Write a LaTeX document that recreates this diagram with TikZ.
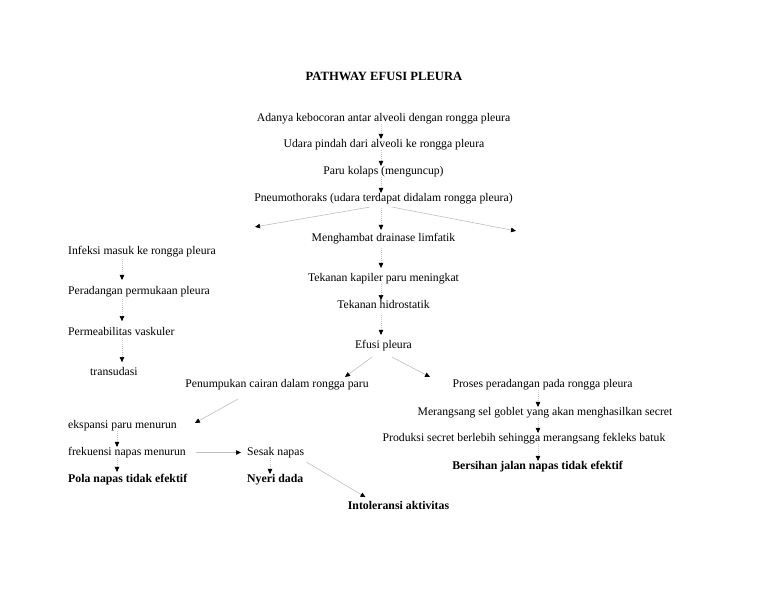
\documentclass[tikz,border=0pt]{standalone}
\usepackage{fontspec}
\setmainfont{Liberation Serif}
\usetikzlibrary{arrows.meta}
\begin{document}
\begin{tikzpicture}[x=1pt,y=-1pt,
  txt/.style={inner sep=0pt,yshift=-1.5pt,font=\fontsize{11.7}{14}\selectfont},
  btxt/.style={inner sep=0pt,yshift=-1.5pt,font=\fontsize{11.8}{14}\selectfont\bfseries},
  tip/.style={-{Triangle[width=4.5pt,length=5pt,color=black]}},
  va/.style={draw=gray!45,line width=0.5pt,dash pattern=on 1pt off 1pt,tip},
  da/.style={draw=gray!50,line width=0.6pt,tip}
]
\useasboundingbox (0,0) rectangle (768,594);
\coordinate (cm) at (381,0);
\coordinate (cl) at (122,0);
\coordinate (ck) at (117,0);
\coordinate (cs) at (270,0);
\coordinate (cr) at (538,0);

\node[btxt,font=\fontsize{12.6}{15}\selectfont\bfseries] (title) at (384,75) {PATHWAY EFUSI PLEURA};
\node[txt] (a1) at (383.5,117) {Adanya kebocoran antar alveoli dengan rongga pleura};
\node[txt] (a2) at (384,143) {Udara pindah dari alveoli ke rongga pleura};
\node[txt] (a3) at (383.5,170) {Paru kolaps (menguncup)};
\node[txt] (a4) at (383.5,197) {Pneumothoraks (udara terdapat didalam rongga pleura)};
\node[txt] (b1) at (383.5,237) {Menghambat drainase limfatik};
\node[txt] (b2) at (383.5,277) {Tekanan kapiler paru meningkat};
\node[txt] (b3) at (383.5,303) {Tekanan hidrostatik};
\node[txt] (b4) at (383.5,344) {Efusi pleura};

\node[txt,anchor=west] (l1) at (68,250) {Infeksi masuk ke rongga pleura};
\node[txt,anchor=west] (l2) at (68,290) {Peradangan permukaan pleura};
\node[txt,anchor=west] (l3) at (68,330) {Permeabilitas vaskuler};
\node[txt,anchor=west] (l4) at (90,370) {transudasi};

\node[txt] (p1) at (277,383) {Penumpukan cairan dalam rongga paru};
\node[txt,anchor=west] (k1) at (68,424) {ekspansi paru menurun};
\node[txt,anchor=west] (k2) at (68,451) {frekuensi napas menurun};
\node[btxt,anchor=west] (k3) at (68,478) {Pola napas tidak efektif};
\node[txt,anchor=west] (s1) at (247,451) {Sesak napas};
\node[btxt,anchor=west] (s2) at (247,478) {Nyeri dada};
\node[btxt] (s3) at (398.5,504) {Intoleransi aktivitas};

\node[txt] (r1) at (542.5,383) {Proses peradangan pada rongga pleura};
\node[txt] (r2) at (545,411) {Merangsang sel goblet yang akan menghasilkan secret};
\node[txt] (r3) at (524,437) {Produksi secret berlebih sehingga merangsang fekleks batuk};
\node[btxt] (r4) at (537.5,465) {Bersihan jalan napas tidak efektif};

% main chain
\draw[va] (a1.south -| cm) -- (a2.north -| cm);
\draw[va] (a2.south -| cm) -- (a3.north -| cm);
\draw[va] (a3.south -| cm) -- (a4.north -| cm);
\draw[va] ([yshift=-4pt]a4.south -| cm) -- ([yshift=3pt]b1.north -| cm);
\draw[da] ([xshift=-13.5pt,yshift=-3pt]a4.south) -- ([xshift=-128.5pt,yshift=6pt]b1.north);
\draw[da] ([xshift=8.5pt,yshift=-3pt]a4.south) -- ([xshift=132.5pt,yshift=2pt]b1.north);
\draw[va] ([yshift=-4pt]b1.south -| cm) -- ([yshift=5pt]b2.north -| cm);
\draw[va] (b2.south -| cm) -- (b3.north -| cm);
\draw[va] ([yshift=-6pt]b3.south -| cm) -- ([yshift=5pt]b4.north -| cm);
\draw[da] ([xshift=-11.5pt,yshift=-6pt]b4.south) -- ([xshift=68pt,yshift=2pt]p1.north);
\draw[da] ([xshift=8.5pt,yshift=-6pt]b4.south) -- ([xshift=-112.5pt,yshift=2pt]r1.north);

% left chain
\draw[va] ([yshift=-2pt]l1.south -| cl) -- ([yshift=6pt]l2.north -| cl);
\draw[va] ([yshift=-2pt]l2.south -| cl) -- ([yshift=6pt]l3.north -| cl);
\draw[va] ([yshift=-2pt]l3.south -| cl) -- ([yshift=5pt]l4.north -| cl);

% penumpukan branch
\draw[da] ([xshift=-39pt,yshift=-9pt]p1.south) -- ([xshift=18pt,yshift=-3pt]k1.north east);
\draw[va] (k1.south -| ck) -- (k2.north -| ck);
\draw[va] (k2.south -| ck) -- ([yshift=2pt]k3.north -| ck);
\draw[da] ([xshift=10pt]k2.east) -- ([xshift=-6pt]s1.west);
\draw[va] (s1.south -| cs) -- (s2.north -| cs);
\draw[da] ([xshift=2pt,yshift=-4pt]s1.south east) -- ([xshift=-33pt,yshift=4pt]s3.north);

% right chain
\draw[va] (r1.south -| cr) -- (r2.north -| cr);
\draw[va] (r2.south -| cr) -- (r3.north -| cr);
\draw[va] (r3.south -| cr) -- (r4.north -| cr);
\end{tikzpicture}
\end{document}
